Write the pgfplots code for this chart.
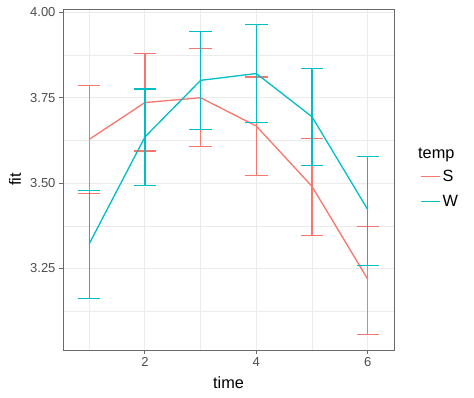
\documentclass[border=0pt]{standalone}
\usepackage{fontspec}
\setmainfont{Liberation Sans}
\usepackage{pgfplots}
\usepackage{pgfplotstable}
\pgfplotsset{compat=1.18}
\definecolor{sred}{HTML}{F8766D}
\definecolor{wteal}{HTML}{00BFC4}
\definecolor{gridc}{HTML}{EBEBEB}
\definecolor{g20}{HTML}{6A6A6A}
\definecolor{g30}{HTML}{4D4D4D}
\pgfplotstableread{
t fit hi lo
1 3.628 3.785 3.469
2 3.736 3.879 3.594
3 3.750 3.894 3.607
4 3.667 3.811 3.523
5 3.490 3.631 3.347
6 3.218 3.372 3.056
}\dataS
\pgfplotstableread{
t fit hi lo
1 3.322 3.478 3.161
2 3.635 3.776 3.493
3 3.801 3.945 3.657
4 3.821 3.965 3.677
5 3.694 3.836 3.551
6 3.422 3.578 3.259
}\dataW
\begin{document}
\begin{tikzpicture}
\useasboundingbox (-63pt,-47pt) rectangle (411pt,350pt);
\begin{axis}[
 at={(0,0)}, anchor=south west, scale only axis, width=331pt, height=341pt,
 xmin=0.53, xmax=6.47, ymin=3.011, ymax=4.010,
 xtick={2,4,6}, minor xtick={1,3,5},
 ytick={3.25,3.5,3.75,4.0}, minor ytick={3.125,3.375,3.625,3.875},
 grid=both,
 major grid style={color=gridc, line width=0.9pt},
 minor grid style={color=gridc, line width=0.45pt},
 axis line style={g20, line width=0.9pt},
 xtick pos=bottom, ytick pos=left,
 tick style={g20, line width=0.9pt}, tick align=outside,
 major tick length=4pt, minor tick length=0pt,
 /pgf/number format/assume math mode=true,
 ticklabel style={font=\fontsize{13}{15}\selectfont, text=g30},
 yticklabel style={/pgf/number format/.cd, fixed, fixed zerofill, precision=2},
 xlabel={time}, ylabel={fit},
 label style={font=\fontsize{16.3}{19}\selectfont},
 xlabel style={at={(axis description cs:0.5,0)}, anchor=center, yshift=-33pt},
 ylabel style={at={(axis description cs:0,0.5)}, anchor=center, yshift=48pt},
 legend style={at={(axis description cs:1,0.472)}, anchor=west, xshift=26pt,
   draw=none, fill=none, font=\fontsize{16.3}{19}\selectfont,
   inner sep=0pt, row sep=8pt},
 legend cell align=left,
]
\addplot[forget plot, color=sred, line width=1.3pt, mark=none,
  error bars/.cd, y dir=both, y explicit, error mark=|,
  error bar style={line width=1.3pt},
  error mark options={mark size=11.2pt, line width=1.3pt, color=sred}]
  table[x=t, y=fit, y error plus expr=\thisrow{hi}-\thisrow{fit}, y error minus expr=\thisrow{fit}-\thisrow{lo}] {\dataS};
\addplot[forget plot, color=wteal, line width=1.3pt, mark=none,
  error bars/.cd, y dir=both, y explicit, error mark=|,
  error bar style={line width=1.3pt},
  error mark options={mark size=11.2pt, line width=1.3pt, color=wteal}]
  table[x=t, y=fit, y error plus expr=\thisrow{hi}-\thisrow{fit}, y error minus expr=\thisrow{fit}-\thisrow{lo}] {\dataW};
\addlegendimage{legend image code/.code={\draw[sred, line width=1.3pt] (0pt,0pt) -- (19pt,0pt);}}
\addlegendentry{S}
\addlegendimage{legend image code/.code={\draw[wteal, line width=1.3pt] (0pt,0pt) -- (19pt,0pt);}}
\addlegendentry{W}
\end{axis}
\node[anchor=base west, font=\fontsize{16.3}{19}\selectfont, inner sep=0pt] at (355pt,192pt) {temp};
\end{tikzpicture}
\end{document}
